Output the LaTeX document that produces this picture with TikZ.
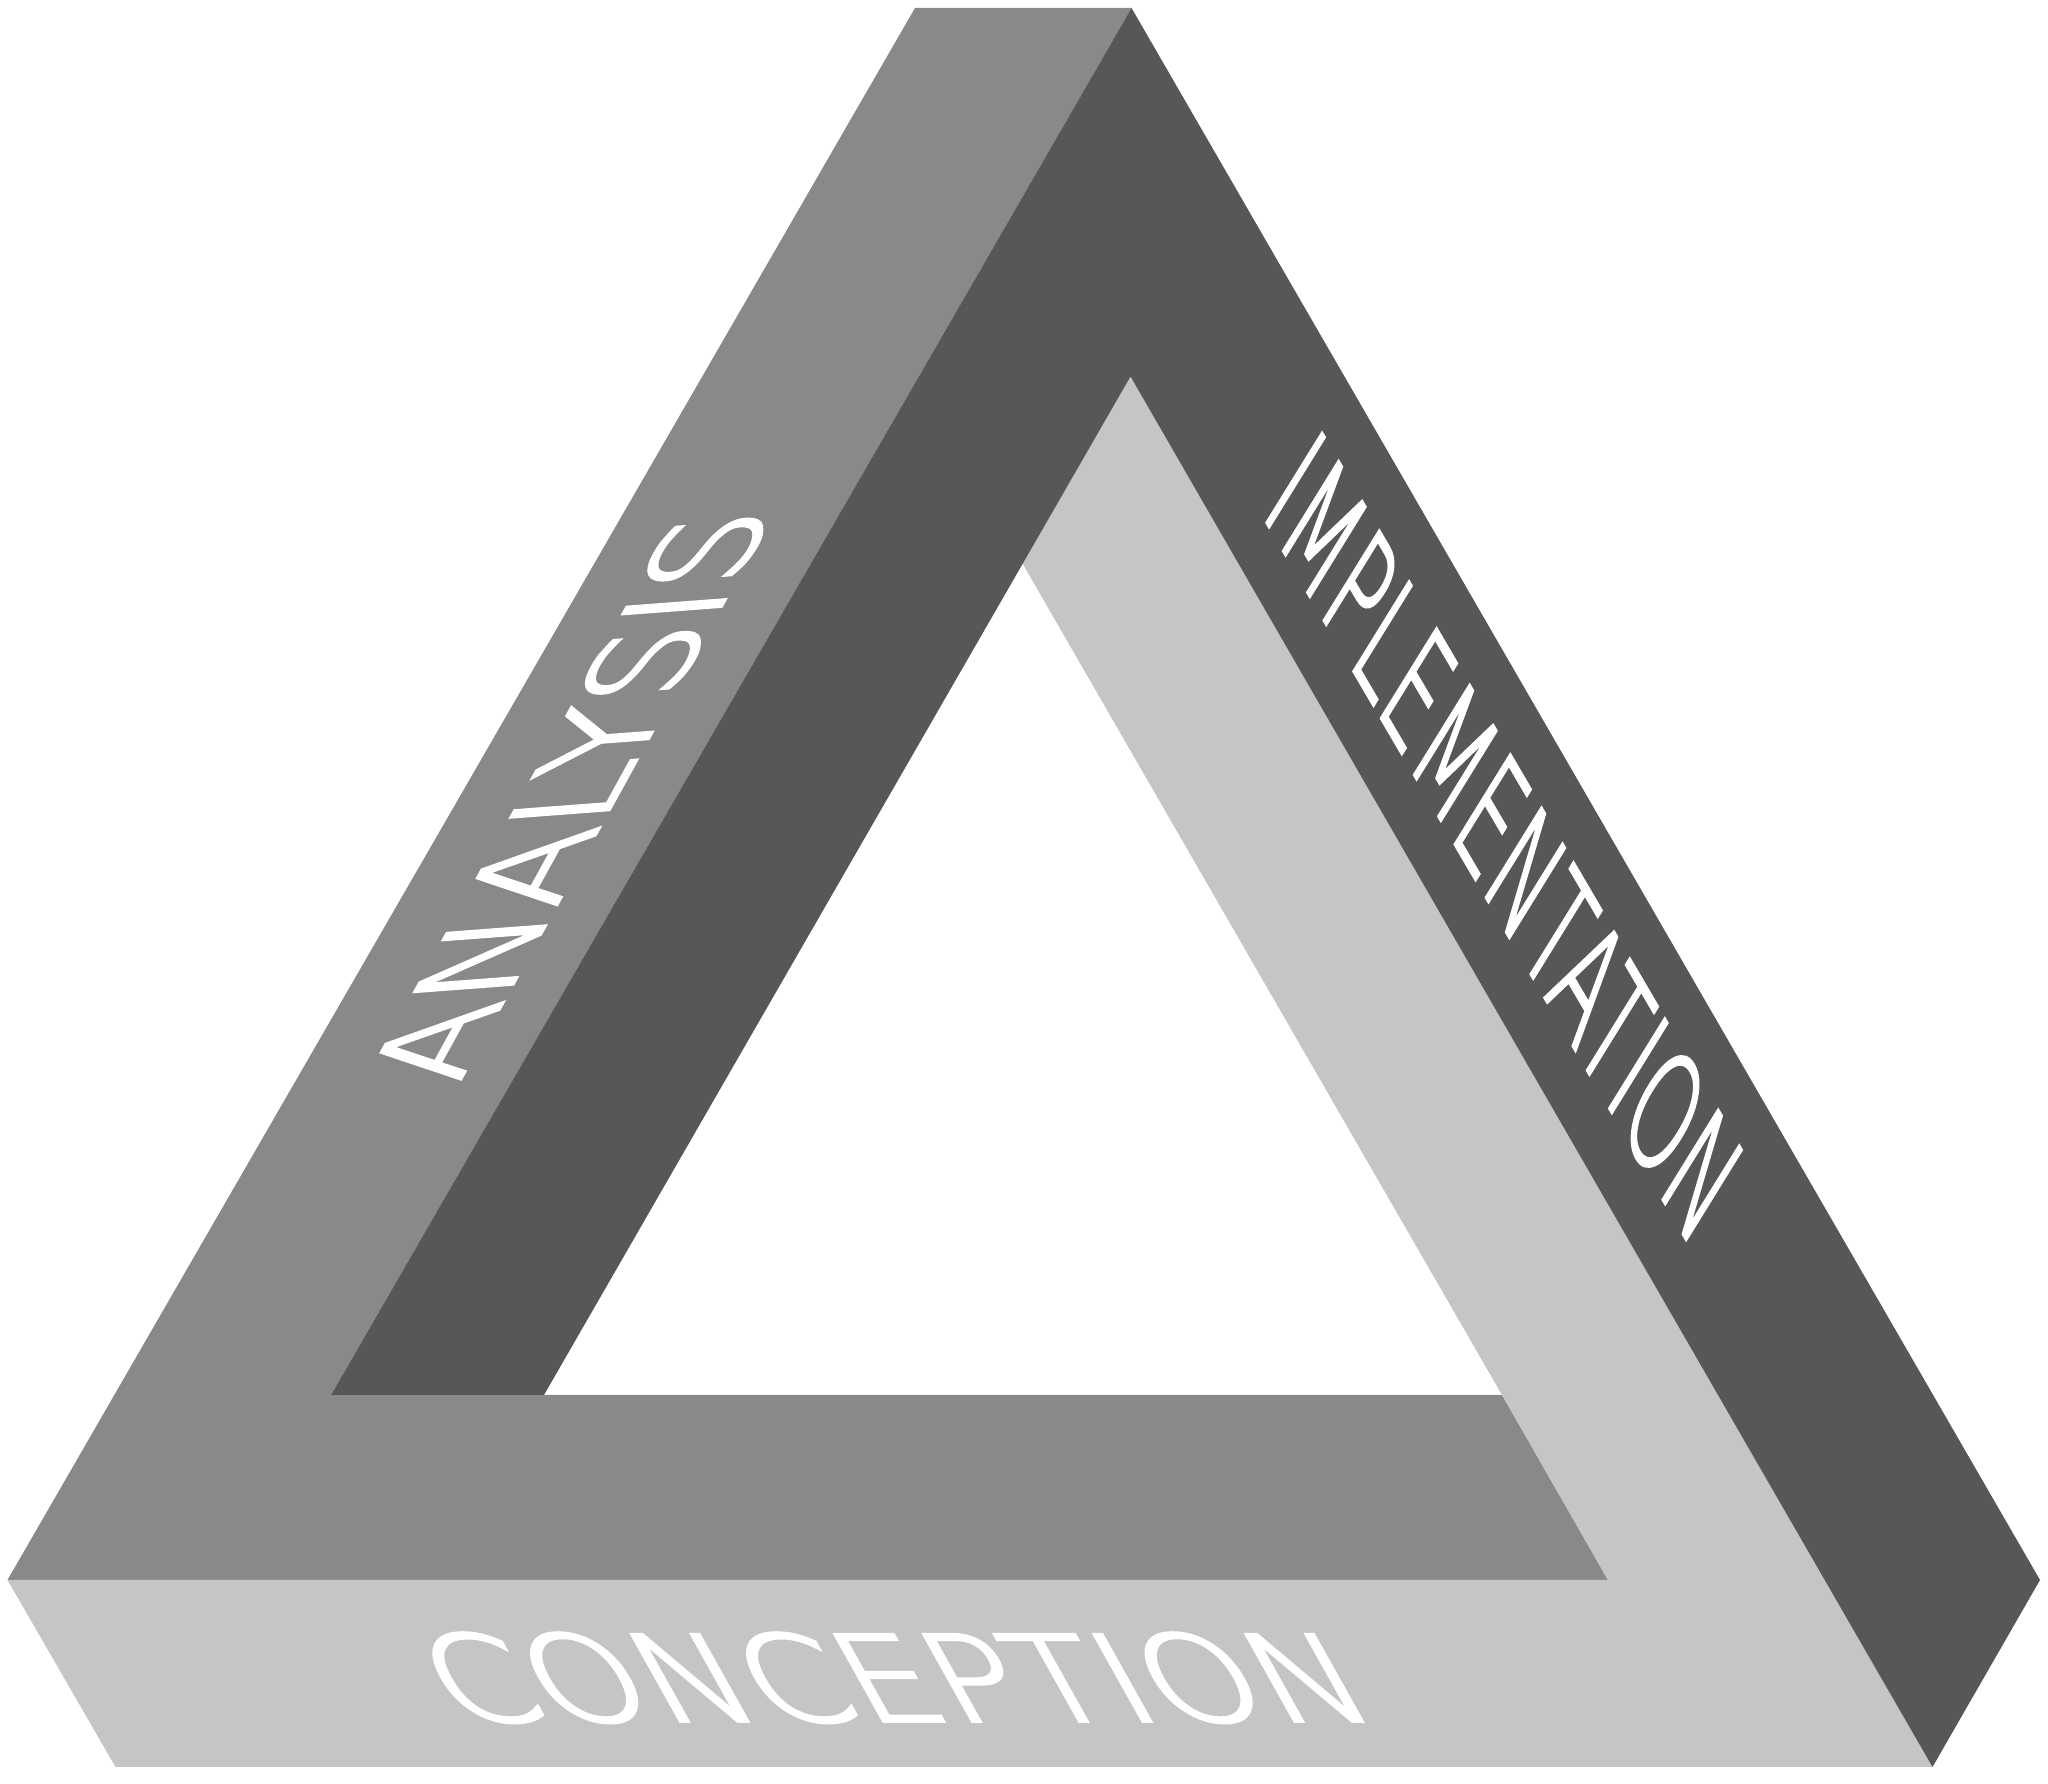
\documentclass[tikz,border=0pt]{standalone}
\usepackage{fontspec}
\usepackage{graphicx}
\newfontfamily\lightfont[FakeBold=3]{DejaVu Sans ExtraLight}
\definecolor{mgray}{RGB}{137,137,137}
\definecolor{dgray}{RGB}{87,87,87}
\definecolor{lgray}{RGB}{197,197,197}
\tikzset{
  face/.style={draw=none},
  facetext/.style={transform shape, anchor=base west, inner sep=0pt, outer sep=0pt, text=white}
}
\begin{document}
\begin{tikzpicture}[x=1pt,y=1pt]
\useasboundingbox (0,0) rectangle (2048,1783);
% medium bar (analysis)
\fill[mgray, face] (915,1775) -- (1131.5,1775) -- (331,388) -- (1502,388) -- (1608,203) -- (7.5,203) -- cycle;
% light bar (conception)
\fill[lgray, face] (7.5,203) -- (115.5,16) -- (1932.5,16) -- (1130.5,1406.5) -- (1022.5,1219.5) -- (1502,388) -- (1608,203) -- cycle;
% dark bar (implementation)
\fill[dgray, face] (1131.5,1775) -- (2040,203) -- (1932.5,16) -- (1130.5,1406.5) -- (544,388) -- (331,388) -- cycle;
% texts
\begin{scope}[shift={(455,62)}, cm={1,0,-0.56,1,(0,0)}]
  \node[facetext] (conc) at (0,0) {\resizebox{928pt}{88pt}{\lightfont CONCEPTION}};
\end{scope}
\begin{scope}[shift={(459,701)}, cm={0.483,0.876,-0.996,-0.075,(0,0)}]
  \node[facetext] (anal) at (0,0) {\resizebox{655pt}{100pt}{\lightfont ANALYSIS}};
\end{scope}
\begin{scope}[shift={(1261,1271)}, cm={0.505,-0.863,0.526,0.851,(0,0)}]
  \node[facetext] (impl) at (0,0) {\resizebox{857pt}{106pt}{\lightfont IMPLEMENTATION}};
\end{scope}
\end{tikzpicture}
\end{document}
